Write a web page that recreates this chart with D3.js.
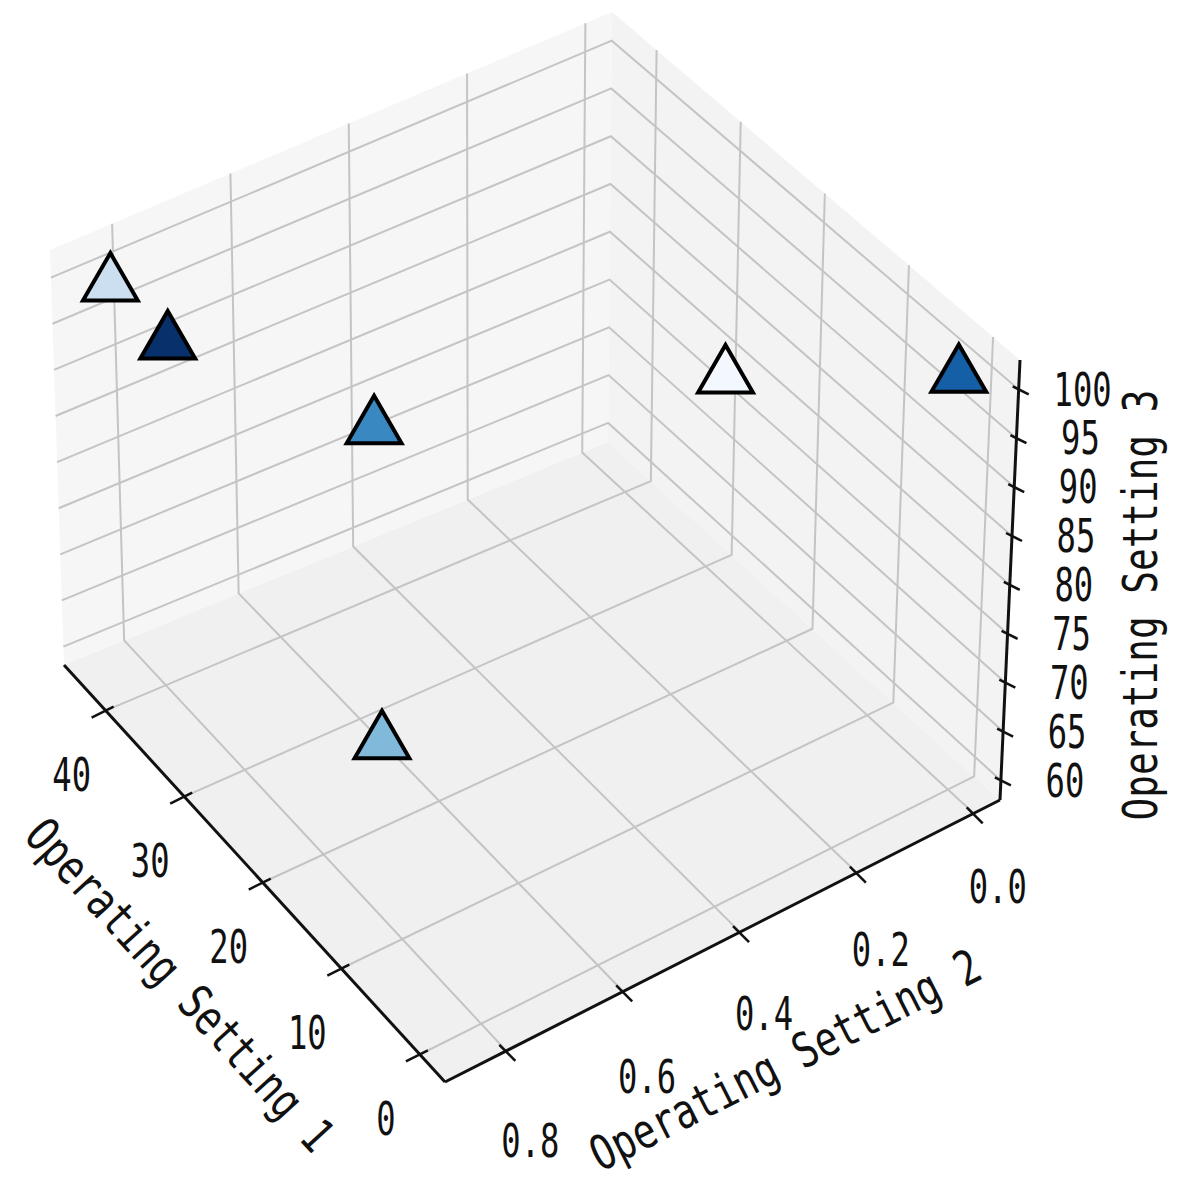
<!DOCTYPE html>
<html>
<head>
<meta charset="utf-8">
<script src="https://d3js.org/d3.v7.min.js"></script>
<style>
  body { margin: 0; background: #fff; }
  text { font-family: "DejaVu Sans Mono", monospace; fill: #111; }
</style>
</head>
<body>
<div id="chart"></div>
<script>
// Operating conditions (setting1, setting2, setting3) and colour value
const setting1 = [42, 35, 20, 10, 0, 25];
const setting2 = [0.84, 0.84, 0.70, 0.25, 0.00, 0.62];
const setting3 = [100, 100, 100, 100, 100, 60];
const shade = [0.22, 1.0, 0.66, 0.02, 0.82, 0.45];

const ticks1 = [0, 10, 20, 30, 40];
const ticks2 = [0.0, 0.2, 0.4, 0.6, 0.8];
const ticks3 = [60, 65, 70, 75, 80, 85, 90, 95, 100];

const width = 1179, height = 1198;

// data -> unit cube
const ux = d3.scaleLinear().domain([-3.2, 45.3]).range([0, 1]);
const uy = d3.scaleLinear().domain([-0.045, 0.905]).range([0, 1]);
const uz = d3.scaleLinear().domain([58, 103]).range([0, 1]);

// screen positions of the box corners, indexed [x][y][z]
const corner = {
    "000": [1000, 800], "010": [445, 1082], "110": [64, 665], "100": [608, 442],
    "001": [1020, 360], "011": [448, 654], "111": [50, 250], "101": [612, 12]
};

// trilinear projection of a data point
function project(x, y, z) {
    const u = ux(x), v = uy(y), w = uz(z);
    let px = 0, py = 0;
    for (const a of [0, 1]) for (const b of [0, 1]) for (const c of [0, 1]) {
        const k = (a ? u : 1 - u) * (b ? v : 1 - v) * (c ? w : 1 - w);
        const p = corner[`${a}${b}${c}`];
        px += k * p[0]; py += k * p[1];
    }
    return [px, py];
}

const [x0, x1] = ux.domain(), [y0, y1] = uy.domain(), [z0, z1] = uz.domain();

const svg = d3.select("#chart").append("svg")
    .attr("width", width).attr("height", height);

const line = d3.line();

// panes
function pane(pts, fill) {
    svg.append("path").attr("d", line(pts.map(p => project(...p))) + "Z")
        .attr("fill", fill).attr("stroke", "none");
}
pane([[x0, y0, z0], [x1, y0, z0], [x1, y1, z0], [x0, y1, z0]], "#f0f0f0");
pane([[x1, y0, z0], [x1, y1, z0], [x1, y1, z1], [x1, y0, z1]], "#f6f6f6");
pane([[x0, y0, z0], [x1, y0, z0], [x1, y0, z1], [x0, y0, z1]], "#f3f3f3");

// grid lines
const grid = svg.append("g").attr("stroke", "#c4c4c4").attr("stroke-width", 2).attr("fill", "none");
function seg(pts) { grid.append("path").attr("d", line(pts.map(p => project(...p)))); }
ticks1.forEach(t => { seg([[t, y1, z0], [t, y0, z0], [t, y0, z1]]); });
ticks2.forEach(t => { seg([[x0, t, z0], [x1, t, z0], [x1, t, z1]]); });
ticks3.forEach(t => { seg([[x1, y1, t], [x1, y0, t], [x0, y0, t]]); });

// axes
const ax = svg.append("g").attr("stroke", "#111").attr("stroke-width", 3).attr("fill", "none");
function axLine(a, b) { ax.append("path").attr("d", line([project(...a), project(...b)])); }
axLine([x0, y1, z0], [x1, y1, z0]);
axLine([x0, y0, z0], [x0, y1, z0]);
axLine([x0, y0, z0], [x0, y0, z1]);

function label(txt, p, size, sx, rot, anchor) {
    svg.append("text")
        .attr("transform", `translate(${p[0]},${p[1]}) rotate(${rot}) scale(${sx},1)`)
        .attr("text-anchor", anchor || "middle")
        .attr("dominant-baseline", "central")
        .attr("font-size", size).text(txt);
}

const tick = svg.append("g").attr("stroke", "#111").attr("stroke-width", 2.5);
ticks1.forEach(t => {
    const a = project(t, y1, z0);
    tick.append("line").attr("x1", a[0] + 8).attr("y1", a[1] - 4).attr("x2", a[0] - 14).attr("y2", a[1] + 7);
    label(String(t), [a[0] - 34, a[1] + 64], 46, 0.7, 0);
});
ticks2.forEach(t => {
    const a = project(x0, t, z0);
    tick.append("line").attr("x1", a[0] - 7).attr("y1", a[1] - 6).attr("x2", a[0] + 9).attr("y2", a[1] + 10);
    label(t.toFixed(1), [a[0] + 24, a[1] + 72 + 20 * uy(t)], 46, 0.7, 0);
});
ticks3.forEach(t => {
    const a = project(x0, y0, t);
    tick.append("line").attr("x1", a[0] - 6).attr("y1", a[1] - 3).attr("x2", a[0] + 10).attr("y2", a[1] + 5);
    label(String(t), [a[0] + 64, a[1]], 46, 0.7, 0);
});

// axis titles
label("Operating Setting 1", [180, 985], 48, 0.785, 47.6);
label("Operating Setting 2", [785, 1060], 48, 0.785, -26.9);
label("Operating Setting 3", [1140, 605], 48, 0.785, -90);

// points
const color = d3.scaleSequential(d3.interpolateBlues).domain([0, 1]);
const tri = d3.symbol().type(d3.symbolTriangle).size(1300);
const pts = setting1.map((s, i) => ({ p: project(s, setting2[i], setting3[i]), c: shade[i] }));
svg.append("g").selectAll("path").data(pts).join("path")
    .attr("transform", d => `translate(${d.p[0] - 6},${d.p[1] - 4})`)
    .attr("d", tri)
    .attr("fill", d => color(d.c))
    .attr("stroke", "#000").attr("stroke-width", 4).attr("stroke-linejoin", "miter");
</script>
</body>
</html>
